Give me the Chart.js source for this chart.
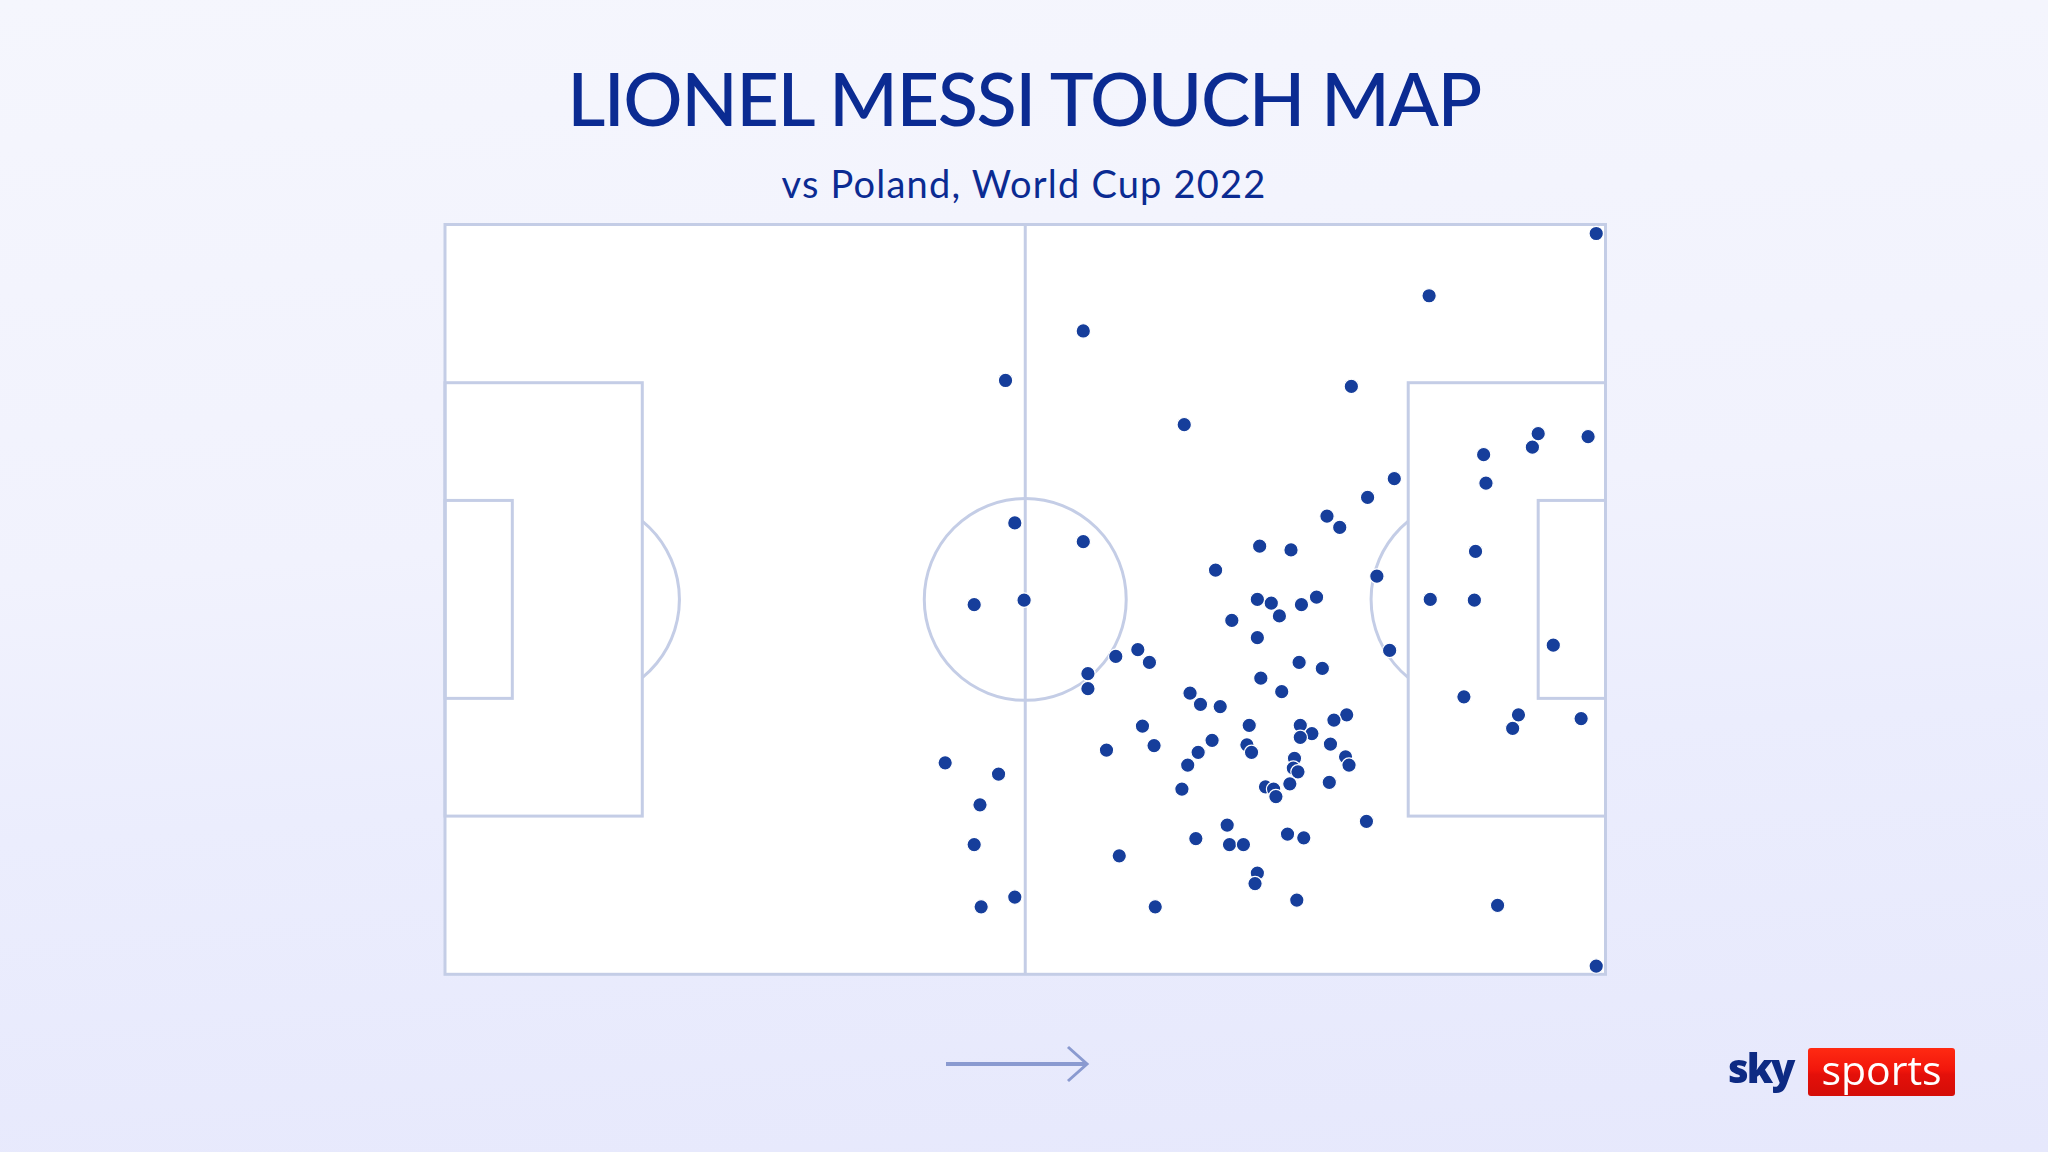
<!DOCTYPE html>
<html lang="en">
<head>
    <meta charset="UTF-8">
    <title>Lionel Messi Touch Map</title>
    <script src="https://cdn.jsdelivr.net/npm/chart.js"></script>
    <style>
        html, body { margin: 0; padding: 0; }
        body {
            width: 2048px;
            height: 1152px;
            position: relative;
            overflow: hidden;
            font-family: 'Lato', 'Open Sans', sans-serif;
            background: linear-gradient(176deg, #f5f6fd 0%, #f1f2fd 45%, #ebedfd 65%, #e6e8fc 100%);
        }
        #pitch { position: absolute; left: 0; top: 0; }
        .title {
            position: absolute; left: 0; width: 2048px; text-align: center;
            color: #0b2b92; line-height: normal; white-space: nowrap;
        }
        #main-title { top: 53px; font-size: 74px; font-weight: 500; letter-spacing: -1.5px; }
        #sub-title { top: 160px; font-size: 38px; font-weight: 400; letter-spacing: 1.2px; }
        #arrow { position: absolute; left: 940px; top: 1040px; }
        .logo { position: absolute; left: 1728px; top: 1048px; height: 48px; }
        .logo .sky {
            position: absolute; left: 0; top: -4px;
            font-family: 'Open Sans', sans-serif; font-weight: 800; font-size: 40px;
            color: #0d2a83; letter-spacing: -2px; line-height: 48px;
        }
        .logo .sports {
            position: absolute; left: 80px; top: 0; width: 147px; height: 48px;
            border-radius: 3px;
            background: linear-gradient(180deg, #ff2a12 0%, #f2170c 45%, #e4100a 55%, #d40d08 100%);
            color: #fff; font-family: 'Open Sans', sans-serif; font-size: 41px;
            line-height: 42px; text-align: center; letter-spacing: 0px;
        }
    </style>
</head>
<body>
    <div class="title" id="main-title">LIONEL MESSI TOUCH MAP</div>
    <div class="title" id="sub-title">vs Poland, World Cup 2022</div>
    <canvas id="pitch" width="2048" height="1152"></canvas>
    <svg id="arrow" width="160" height="50">
        <line x1="6" y1="24" x2="146" y2="24" stroke="#8a9ad0" stroke-width="4"/>
        <polyline points="128,7 147,24 128,41" fill="none" stroke="#8a9ad0" stroke-width="3"/>
    </svg>
    <div class="logo"><span class="sky">sky</span><span class="sports">sports</span></div>

    <script>
        // touch locations, pitch percent (x = length towards attacking goal, y = from top touchline)
        const touchX = [
            99.2, 84.8, 55.0, 48.3, 78.1, 63.7, 94.2, 98.5, 93.7, 89.5,
            81.8, 89.7, 79.5, 76.0, 49.1, 77.1, 55.0, 70.2, 72.9, 88.8,
            66.4, 80.3, 75.1, 70.0, 84.9, 88.7, 49.9, 71.2, 73.8, 45.6,
            71.9, 67.8, 70.0, 95.5, 59.7, 81.4, 57.8, 60.7, 73.6, 75.6,
            55.4, 70.3, 55.4, 72.1, 64.2, 87.8, 65.1, 66.8, 77.7, 92.5,
            97.9, 76.6, 69.3, 73.7, 60.1, 92.0, 74.7, 73.7, 66.1, 76.3,
            69.1, 61.1, 57.0, 64.9, 69.5, 77.6, 73.2, 43.1, 64.0, 77.9,
            73.1, 73.5, 47.7, 76.2, 72.8, 70.7, 71.4, 63.5, 71.6, 46.1,
            79.4, 67.4, 72.6, 74.0, 64.7, 45.6, 67.6, 68.8, 58.1, 70.0,
            69.8, 49.1, 73.4, 90.7, 46.2, 61.2, 99.2
        ];
        const touchY = [
            1.2, 9.5, 14.2, 20.8, 21.6, 26.7, 27.9, 28.3, 29.7, 30.7,
            33.9, 34.5, 36.4, 38.9, 39.8, 40.4, 42.3, 42.9, 43.4, 43.6,
            46.1, 46.9, 49.7, 50.0, 50.0, 50.1, 50.1, 50.5, 50.7, 50.7,
            52.2, 52.8, 55.1, 56.1, 56.7, 56.8, 57.6, 58.4, 58.4, 59.2,
            59.9, 60.5, 61.9, 62.3, 62.5, 63.0, 64.0, 64.3, 65.4, 65.4,
            65.9, 66.1, 66.8, 66.8, 66.9, 67.2, 67.9, 68.4, 68.8, 69.3,
            69.4, 69.5, 70.1, 70.4, 70.4, 71.0, 71.2, 71.8, 72.1, 72.1,
            72.5, 73.0, 73.3, 74.4, 74.6, 75.0, 75.3, 75.3, 76.3, 77.4,
            79.6, 80.1, 81.3, 81.8, 81.9, 82.7, 82.7, 82.7, 84.2, 86.5,
            87.9, 89.7, 90.1, 90.8, 91.0, 91.0, 98.9
        ];

        // pitch markings in the same percent units (Opta style)
        const pitchRects = [
            [0, 0, 100, 100],
            [0, 21.1, 17, 78.9], [83, 21.1, 100, 78.9],
            [0, 36.8, 5.8, 63.2], [94.2, 36.8, 100, 63.2]
        ];
        const circleRadius = 8.7; // in x units
        const penaltySpot = 11.5;

        const lineColor = '#c4cde6';

        const pitchPlugin = {
            id: 'pitch',
            beforeDatasetsDraw(chart) {
                const ctx = chart.ctx;
                const xs = chart.scales.x, ys = chart.scales.y;
                const a = chart.chartArea;
                const r = xs.getPixelForValue(circleRadius) - xs.getPixelForValue(0);
                const midY = ys.getPixelForValue(50);
                ctx.save();
                ctx.fillStyle = '#ffffff';
                ctx.fillRect(a.left, a.top, a.right - a.left, a.bottom - a.top);
                ctx.strokeStyle = lineColor;
                ctx.lineWidth = 3;

                // half-way line and centre circle
                const cx = xs.getPixelForValue(50);
                ctx.beginPath();
                ctx.moveTo(cx, a.top); ctx.lineTo(cx, a.bottom);
                ctx.stroke();
                ctx.beginPath();
                ctx.arc(cx, midY, r, 0, Math.PI * 2);
                ctx.stroke();

                // penalty arcs, outside the boxes only
                [[penaltySpot, 17, 1], [100 - penaltySpot, 83, -1]].forEach(([spot, edge, dir]) => {
                    const px = xs.getPixelForValue(spot);
                    const ex = xs.getPixelForValue(edge);
                    const ang = Math.acos((ex - px) * dir / r);
                    ctx.beginPath();
                    if (dir > 0) ctx.arc(px, midY, r, -ang, ang);
                    else ctx.arc(px, midY, r, Math.PI - ang, Math.PI + ang);
                    ctx.stroke();
                });

                pitchRects.forEach(([x0, y0, x1, y1]) => {
                    const l = xs.getPixelForValue(x0), rr = xs.getPixelForValue(x1);
                    const t = ys.getPixelForValue(y0), b = ys.getPixelForValue(y1);
                    ctx.strokeRect(l, t, rr - l, b - t);
                });
                ctx.restore();
            }
        };

        new Chart(document.getElementById('pitch').getContext('2d'), {
            type: 'scatter',
            data: {
                datasets: [{
                    data: touchX.map((x, i) => ({ x: x, y: touchY[i] })),
                    backgroundColor: '#163e9b',
                    borderColor: '#ffffff',
                    borderWidth: 1.2,
                    pointRadius: 7.2,
                    pointHoverRadius: 7.2,
                    clip: false
                }]
            },
            options: {
                responsive: false,
                animation: false,
                events: [],
                layout: { padding: { left: 445, top: 224.5, right: 442.5, bottom: 177.7 } },
                plugins: { legend: { display: false }, tooltip: { enabled: false } },
                scales: {
                    x: { type: 'linear', min: 0, max: 100, display: false },
                    y: { type: 'linear', min: 0, max: 100, reverse: true, display: false }
                }
            },
            plugins: [pitchPlugin]
        });
    </script>
</body>
</html>
